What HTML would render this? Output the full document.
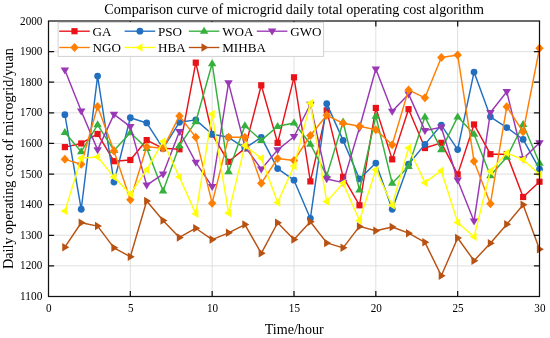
<!DOCTYPE html>
<html><head><meta charset="utf-8"><title>Comparison curve</title>
<style>html,body{margin:0;padding:0;background:#fff}svg{display:block}</style>
</head><body>
<svg width="550" height="338" viewBox="0 0 550 338" font-family="'Liberation Serif', serif" fill="#000">
<rect width="550" height="338" fill="#fff"/>
<path d="M130.33 21.0 V296.5 M212.17 21.0 V296.5 M294.00 21.0 V296.5 M375.83 21.0 V296.5 M457.67 21.0 V296.5 M48.5 265.89 H539.5 M48.5 235.28 H539.5 M48.5 204.67 H539.5 M48.5 174.06 H539.5 M48.5 143.44 H539.5 M48.5 112.83 H539.5 M48.5 82.22 H539.5 M48.5 51.61 H539.5" stroke="#dfdfdf" stroke-width="1" fill="none"/>
<g><polyline points="64.87,147.12 81.23,143.44 97.60,133.96 113.97,161.20 130.33,159.97 146.70,140.08 163.07,148.34 179.43,149.26 195.80,62.63 212.17,134.26 228.53,161.81 244.90,148.34 261.27,85.28 277.63,142.83 294.00,77.32 310.37,181.40 326.73,110.38 343.10,176.81 359.47,205.28 375.83,107.94 392.20,159.36 408.57,109.16 424.93,148.04 441.30,142.83 457.67,174.36 474.03,124.47 490.40,154.16 506.77,154.16 523.13,197.01 539.50,181.71" fill="none" stroke="#ea1219" stroke-width="1.45" stroke-linejoin="round"/>
<rect x="61.77" y="144.02" width="6.2" height="6.2" fill="#ea1219"/>
<rect x="78.13" y="140.34" width="6.2" height="6.2" fill="#ea1219"/>
<rect x="94.50" y="130.86" width="6.2" height="6.2" fill="#ea1219"/>
<rect x="110.87" y="158.10" width="6.2" height="6.2" fill="#ea1219"/>
<rect x="127.23" y="156.87" width="6.2" height="6.2" fill="#ea1219"/>
<rect x="143.60" y="136.98" width="6.2" height="6.2" fill="#ea1219"/>
<rect x="159.97" y="145.24" width="6.2" height="6.2" fill="#ea1219"/>
<rect x="176.33" y="146.16" width="6.2" height="6.2" fill="#ea1219"/>
<rect x="192.70" y="59.53" width="6.2" height="6.2" fill="#ea1219"/>
<rect x="209.07" y="131.16" width="6.2" height="6.2" fill="#ea1219"/>
<rect x="225.43" y="158.71" width="6.2" height="6.2" fill="#ea1219"/>
<rect x="241.80" y="145.24" width="6.2" height="6.2" fill="#ea1219"/>
<rect x="258.17" y="82.18" width="6.2" height="6.2" fill="#ea1219"/>
<rect x="274.53" y="139.73" width="6.2" height="6.2" fill="#ea1219"/>
<rect x="290.90" y="74.22" width="6.2" height="6.2" fill="#ea1219"/>
<rect x="307.27" y="178.30" width="6.2" height="6.2" fill="#ea1219"/>
<rect x="323.63" y="107.28" width="6.2" height="6.2" fill="#ea1219"/>
<rect x="340.00" y="173.71" width="6.2" height="6.2" fill="#ea1219"/>
<rect x="356.37" y="202.18" width="6.2" height="6.2" fill="#ea1219"/>
<rect x="372.73" y="104.84" width="6.2" height="6.2" fill="#ea1219"/>
<rect x="389.10" y="156.26" width="6.2" height="6.2" fill="#ea1219"/>
<rect x="405.47" y="106.06" width="6.2" height="6.2" fill="#ea1219"/>
<rect x="421.83" y="144.94" width="6.2" height="6.2" fill="#ea1219"/>
<rect x="438.20" y="139.73" width="6.2" height="6.2" fill="#ea1219"/>
<rect x="454.57" y="171.26" width="6.2" height="6.2" fill="#ea1219"/>
<rect x="470.93" y="121.37" width="6.2" height="6.2" fill="#ea1219"/>
<rect x="487.30" y="151.06" width="6.2" height="6.2" fill="#ea1219"/>
<rect x="503.67" y="151.06" width="6.2" height="6.2" fill="#ea1219"/>
<rect x="520.03" y="193.91" width="6.2" height="6.2" fill="#ea1219"/>
<rect x="536.40" y="178.61" width="6.2" height="6.2" fill="#ea1219"/>
</g>
<g><polyline points="64.87,114.67 81.23,209.26 97.60,76.10 113.97,182.01 130.33,117.73 146.70,122.94 163.07,148.34 179.43,122.32 195.80,119.87 212.17,134.26 228.53,137.32 244.90,148.04 261.27,137.32 277.63,168.55 294.00,180.18 310.37,218.44 326.73,103.65 343.10,140.38 359.47,178.95 375.83,163.04 392.20,209.26 408.57,164.26 424.93,144.36 441.30,125.08 457.67,149.57 474.03,72.12 490.40,116.81 506.77,127.53 523.13,139.47 539.50,169.16" fill="none" stroke="#226fc0" stroke-width="1.45" stroke-linejoin="round"/>
<circle cx="64.87" cy="114.67" r="3.4" fill="#226fc0"/>
<circle cx="81.23" cy="209.26" r="3.4" fill="#226fc0"/>
<circle cx="97.60" cy="76.10" r="3.4" fill="#226fc0"/>
<circle cx="113.97" cy="182.01" r="3.4" fill="#226fc0"/>
<circle cx="130.33" cy="117.73" r="3.4" fill="#226fc0"/>
<circle cx="146.70" cy="122.94" r="3.4" fill="#226fc0"/>
<circle cx="163.07" cy="148.34" r="3.4" fill="#226fc0"/>
<circle cx="179.43" cy="122.32" r="3.4" fill="#226fc0"/>
<circle cx="195.80" cy="119.87" r="3.4" fill="#226fc0"/>
<circle cx="212.17" cy="134.26" r="3.4" fill="#226fc0"/>
<circle cx="228.53" cy="137.32" r="3.4" fill="#226fc0"/>
<circle cx="244.90" cy="148.04" r="3.4" fill="#226fc0"/>
<circle cx="261.27" cy="137.32" r="3.4" fill="#226fc0"/>
<circle cx="277.63" cy="168.55" r="3.4" fill="#226fc0"/>
<circle cx="294.00" cy="180.18" r="3.4" fill="#226fc0"/>
<circle cx="310.37" cy="218.44" r="3.4" fill="#226fc0"/>
<circle cx="326.73" cy="103.65" r="3.4" fill="#226fc0"/>
<circle cx="343.10" cy="140.38" r="3.4" fill="#226fc0"/>
<circle cx="359.47" cy="178.95" r="3.4" fill="#226fc0"/>
<circle cx="375.83" cy="163.04" r="3.4" fill="#226fc0"/>
<circle cx="392.20" cy="209.26" r="3.4" fill="#226fc0"/>
<circle cx="408.57" cy="164.26" r="3.4" fill="#226fc0"/>
<circle cx="424.93" cy="144.36" r="3.4" fill="#226fc0"/>
<circle cx="441.30" cy="125.08" r="3.4" fill="#226fc0"/>
<circle cx="457.67" cy="149.57" r="3.4" fill="#226fc0"/>
<circle cx="474.03" cy="72.12" r="3.4" fill="#226fc0"/>
<circle cx="490.40" cy="116.81" r="3.4" fill="#226fc0"/>
<circle cx="506.77" cy="127.53" r="3.4" fill="#226fc0"/>
<circle cx="523.13" cy="139.47" r="3.4" fill="#226fc0"/>
<circle cx="539.50" cy="169.16" r="3.4" fill="#226fc0"/>
</g>
<g><polyline points="64.87,132.42 81.23,151.71 97.60,124.77 113.97,150.48 130.33,132.73 146.70,148.34 163.07,190.89 179.43,145.59 195.80,121.71 212.17,63.55 228.53,171.61 244.90,125.69 261.27,140.38 277.63,126.30 294.00,122.94 310.37,144.06 326.73,175.59 343.10,122.02 359.47,189.97 375.83,116.20 392.20,183.24 408.57,166.40 424.93,116.81 441.30,149.57 457.67,116.81 474.03,134.26 490.40,175.59 506.77,157.22 523.13,124.47 539.50,163.04" fill="none" stroke="#35b03c" stroke-width="1.45" stroke-linejoin="round"/>
<polygon points="60.62,135.02 69.12,135.02 64.87,128.02" fill="#35b03c"/>
<polygon points="76.98,154.31 85.48,154.31 81.23,147.31" fill="#35b03c"/>
<polygon points="93.35,127.37 101.85,127.37 97.60,120.37" fill="#35b03c"/>
<polygon points="109.72,153.08 118.22,153.08 113.97,146.08" fill="#35b03c"/>
<polygon points="126.08,135.33 134.58,135.33 130.33,128.33" fill="#35b03c"/>
<polygon points="142.45,150.94 150.95,150.94 146.70,143.94" fill="#35b03c"/>
<polygon points="158.82,193.49 167.32,193.49 163.07,186.49" fill="#35b03c"/>
<polygon points="175.18,148.19 183.68,148.19 179.43,141.19" fill="#35b03c"/>
<polygon points="191.55,124.31 200.05,124.31 195.80,117.31" fill="#35b03c"/>
<polygon points="207.92,66.15 216.42,66.15 212.17,59.15" fill="#35b03c"/>
<polygon points="224.28,174.21 232.78,174.21 228.53,167.21" fill="#35b03c"/>
<polygon points="240.65,128.29 249.15,128.29 244.90,121.29" fill="#35b03c"/>
<polygon points="257.02,142.98 265.52,142.98 261.27,135.98" fill="#35b03c"/>
<polygon points="273.38,128.90 281.88,128.90 277.63,121.90" fill="#35b03c"/>
<polygon points="289.75,125.53 298.25,125.53 294.00,118.53" fill="#35b03c"/>
<polygon points="306.12,146.66 314.62,146.66 310.37,139.66" fill="#35b03c"/>
<polygon points="322.48,178.19 330.98,178.19 326.73,171.19" fill="#35b03c"/>
<polygon points="338.85,124.62 347.35,124.62 343.10,117.62" fill="#35b03c"/>
<polygon points="355.22,192.57 363.72,192.57 359.47,185.57" fill="#35b03c"/>
<polygon points="371.58,118.80 380.08,118.80 375.83,111.80" fill="#35b03c"/>
<polygon points="387.95,185.84 396.45,185.84 392.20,178.84" fill="#35b03c"/>
<polygon points="404.32,169.00 412.82,169.00 408.57,162.00" fill="#35b03c"/>
<polygon points="420.68,119.41 429.18,119.41 424.93,112.41" fill="#35b03c"/>
<polygon points="437.05,152.17 445.55,152.17 441.30,145.17" fill="#35b03c"/>
<polygon points="453.42,119.41 461.92,119.41 457.67,112.41" fill="#35b03c"/>
<polygon points="469.78,136.86 478.28,136.86 474.03,129.86" fill="#35b03c"/>
<polygon points="486.15,178.19 494.65,178.19 490.40,171.19" fill="#35b03c"/>
<polygon points="502.52,159.82 511.02,159.82 506.77,152.82" fill="#35b03c"/>
<polygon points="518.88,127.07 527.38,127.07 523.13,120.07" fill="#35b03c"/>
<polygon points="535.25,165.64 543.75,165.64 539.50,158.64" fill="#35b03c"/>
</g>
<g><polyline points="64.87,69.98 81.23,111.00 97.60,149.87 113.97,114.36 130.33,126.61 146.70,185.08 163.07,174.06 179.43,131.51 195.80,162.42 212.17,186.61 228.53,82.83 244.90,146.51 261.27,169.16 277.63,149.87 294.00,136.71 310.37,104.26 326.73,178.95 343.10,182.63 359.47,127.83 375.83,69.06 392.20,111.30 408.57,94.16 424.93,130.59 441.30,127.22 457.67,180.18 474.03,221.20 490.40,112.53 506.77,91.71 523.13,158.75 539.50,142.83" fill="none" stroke="#9938b5" stroke-width="1.45" stroke-linejoin="round"/>
<polygon points="60.62,67.38 69.12,67.38 64.87,74.38" fill="#9938b5"/>
<polygon points="76.98,108.40 85.48,108.40 81.23,115.40" fill="#9938b5"/>
<polygon points="93.35,147.27 101.85,147.27 97.60,154.27" fill="#9938b5"/>
<polygon points="109.72,111.76 118.22,111.76 113.97,118.76" fill="#9938b5"/>
<polygon points="126.08,124.01 134.58,124.01 130.33,131.01" fill="#9938b5"/>
<polygon points="142.45,182.48 150.95,182.48 146.70,189.48" fill="#9938b5"/>
<polygon points="158.82,171.46 167.32,171.46 163.07,178.46" fill="#9938b5"/>
<polygon points="175.18,128.91 183.68,128.91 179.43,135.91" fill="#9938b5"/>
<polygon points="191.55,159.82 200.05,159.82 195.80,166.82" fill="#9938b5"/>
<polygon points="207.92,184.01 216.42,184.01 212.17,191.01" fill="#9938b5"/>
<polygon points="224.28,80.23 232.78,80.23 228.53,87.23" fill="#9938b5"/>
<polygon points="240.65,143.91 249.15,143.91 244.90,150.91" fill="#9938b5"/>
<polygon points="257.02,166.56 265.52,166.56 261.27,173.56" fill="#9938b5"/>
<polygon points="273.38,147.27 281.88,147.27 277.63,154.27" fill="#9938b5"/>
<polygon points="289.75,134.11 298.25,134.11 294.00,141.11" fill="#9938b5"/>
<polygon points="306.12,101.66 314.62,101.66 310.37,108.66" fill="#9938b5"/>
<polygon points="322.48,176.35 330.98,176.35 326.73,183.35" fill="#9938b5"/>
<polygon points="338.85,180.03 347.35,180.03 343.10,187.03" fill="#9938b5"/>
<polygon points="355.22,125.23 363.72,125.23 359.47,132.23" fill="#9938b5"/>
<polygon points="371.58,66.46 380.08,66.46 375.83,73.46" fill="#9938b5"/>
<polygon points="387.95,108.70 396.45,108.70 392.20,115.70" fill="#9938b5"/>
<polygon points="404.32,91.56 412.82,91.56 408.57,98.56" fill="#9938b5"/>
<polygon points="420.68,127.99 429.18,127.99 424.93,134.99" fill="#9938b5"/>
<polygon points="437.05,124.62 445.55,124.62 441.30,131.62" fill="#9938b5"/>
<polygon points="453.42,177.58 461.92,177.58 457.67,184.58" fill="#9938b5"/>
<polygon points="469.78,218.60 478.28,218.60 474.03,225.60" fill="#9938b5"/>
<polygon points="486.15,109.93 494.65,109.93 490.40,116.93" fill="#9938b5"/>
<polygon points="502.52,89.11 511.02,89.11 506.77,96.11" fill="#9938b5"/>
<polygon points="518.88,156.15 527.38,156.15 523.13,163.15" fill="#9938b5"/>
<polygon points="535.25,140.23 543.75,140.23 539.50,147.23" fill="#9938b5"/>
</g>
<g><polyline points="64.87,159.36 81.23,164.26 97.60,106.41 113.97,151.10 130.33,199.77 146.70,146.81 163.07,148.34 179.43,115.89 195.80,137.32 212.17,203.14 228.53,137.32 244.90,137.32 261.27,183.24 277.63,158.44 294.00,160.59 310.37,135.49 326.73,115.28 343.10,123.24 359.47,126.30 375.83,129.67 392.20,144.67 408.57,89.88 424.93,97.83 441.30,57.43 457.67,54.98 474.03,161.20 490.40,203.75 506.77,106.71 523.13,131.81 539.50,48.24" fill="none" stroke="#ff7f03" stroke-width="1.45" stroke-linejoin="round"/>
<polygon points="60.67,159.36 64.87,154.86 69.07,159.36 64.87,163.86" fill="#ff7f03"/>
<polygon points="77.03,164.26 81.23,159.76 85.43,164.26 81.23,168.76" fill="#ff7f03"/>
<polygon points="93.40,106.41 97.60,101.91 101.80,106.41 97.60,110.91" fill="#ff7f03"/>
<polygon points="109.77,151.10 113.97,146.60 118.17,151.10 113.97,155.60" fill="#ff7f03"/>
<polygon points="126.13,199.77 130.33,195.27 134.53,199.77 130.33,204.27" fill="#ff7f03"/>
<polygon points="142.50,146.81 146.70,142.31 150.90,146.81 146.70,151.31" fill="#ff7f03"/>
<polygon points="158.87,148.34 163.07,143.84 167.27,148.34 163.07,152.84" fill="#ff7f03"/>
<polygon points="175.23,115.89 179.43,111.39 183.63,115.89 179.43,120.39" fill="#ff7f03"/>
<polygon points="191.60,137.32 195.80,132.82 200.00,137.32 195.80,141.82" fill="#ff7f03"/>
<polygon points="207.97,203.14 212.17,198.64 216.37,203.14 212.17,207.64" fill="#ff7f03"/>
<polygon points="224.33,137.32 228.53,132.82 232.73,137.32 228.53,141.82" fill="#ff7f03"/>
<polygon points="240.70,137.32 244.90,132.82 249.10,137.32 244.90,141.82" fill="#ff7f03"/>
<polygon points="257.07,183.24 261.27,178.74 265.47,183.24 261.27,187.74" fill="#ff7f03"/>
<polygon points="273.43,158.44 277.63,153.94 281.83,158.44 277.63,162.94" fill="#ff7f03"/>
<polygon points="289.80,160.59 294.00,156.09 298.20,160.59 294.00,165.09" fill="#ff7f03"/>
<polygon points="306.17,135.49 310.37,130.99 314.57,135.49 310.37,139.99" fill="#ff7f03"/>
<polygon points="322.53,115.28 326.73,110.78 330.93,115.28 326.73,119.78" fill="#ff7f03"/>
<polygon points="338.90,123.24 343.10,118.74 347.30,123.24 343.10,127.74" fill="#ff7f03"/>
<polygon points="355.27,126.30 359.47,121.80 363.67,126.30 359.47,130.80" fill="#ff7f03"/>
<polygon points="371.63,129.67 375.83,125.17 380.03,129.67 375.83,134.17" fill="#ff7f03"/>
<polygon points="388.00,144.67 392.20,140.17 396.40,144.67 392.20,149.17" fill="#ff7f03"/>
<polygon points="404.37,89.88 408.57,85.38 412.77,89.88 408.57,94.38" fill="#ff7f03"/>
<polygon points="420.73,97.83 424.93,93.33 429.13,97.83 424.93,102.33" fill="#ff7f03"/>
<polygon points="437.10,57.43 441.30,52.93 445.50,57.43 441.30,61.93" fill="#ff7f03"/>
<polygon points="453.47,54.98 457.67,50.48 461.87,54.98 457.67,59.48" fill="#ff7f03"/>
<polygon points="469.83,161.20 474.03,156.70 478.23,161.20 474.03,165.70" fill="#ff7f03"/>
<polygon points="486.20,203.75 490.40,199.25 494.60,203.75 490.40,208.25" fill="#ff7f03"/>
<polygon points="502.57,106.71 506.77,102.21 510.97,106.71 506.77,111.21" fill="#ff7f03"/>
<polygon points="518.93,131.81 523.13,127.31 527.33,131.81 523.13,136.31" fill="#ff7f03"/>
<polygon points="535.30,48.24 539.50,43.74 543.70,48.24 539.50,52.74" fill="#ff7f03"/>
</g>
<g><polyline points="64.87,211.09 81.23,158.14 97.60,156.91 113.97,177.12 130.33,193.95 146.70,169.77 163.07,141.61 179.43,177.12 195.80,213.85 212.17,114.06 228.53,212.93 244.90,145.59 261.27,158.14 277.63,202.52 294.00,166.10 310.37,103.34 326.73,201.61 343.10,183.24 359.47,220.58 375.83,169.77 392.20,205.28 408.57,148.04 424.93,182.63 441.30,170.69 457.67,222.42 474.03,236.81 490.40,171.30 506.77,152.93 523.13,159.67 539.50,174.36" fill="none" stroke="#ffff0a" stroke-width="1.45" stroke-linejoin="round"/>
<polygon points="67.47,206.84 67.47,215.34 60.47,211.09" fill="#ffff0a"/>
<polygon points="83.83,153.89 83.83,162.39 76.83,158.14" fill="#ffff0a"/>
<polygon points="100.20,152.66 100.20,161.16 93.20,156.91" fill="#ffff0a"/>
<polygon points="116.57,172.87 116.57,181.37 109.57,177.12" fill="#ffff0a"/>
<polygon points="132.93,189.70 132.93,198.20 125.93,193.95" fill="#ffff0a"/>
<polygon points="149.30,165.52 149.30,174.02 142.30,169.77" fill="#ffff0a"/>
<polygon points="165.67,137.36 165.67,145.86 158.67,141.61" fill="#ffff0a"/>
<polygon points="182.03,172.87 182.03,181.37 175.03,177.12" fill="#ffff0a"/>
<polygon points="198.40,209.60 198.40,218.10 191.40,213.85" fill="#ffff0a"/>
<polygon points="214.77,109.81 214.77,118.31 207.77,114.06" fill="#ffff0a"/>
<polygon points="231.13,208.68 231.13,217.18 224.13,212.93" fill="#ffff0a"/>
<polygon points="247.50,141.34 247.50,149.84 240.50,145.59" fill="#ffff0a"/>
<polygon points="263.87,153.89 263.87,162.39 256.87,158.14" fill="#ffff0a"/>
<polygon points="280.23,198.27 280.23,206.77 273.23,202.52" fill="#ffff0a"/>
<polygon points="296.60,161.85 296.60,170.35 289.60,166.10" fill="#ffff0a"/>
<polygon points="312.97,99.09 312.97,107.59 305.97,103.34" fill="#ffff0a"/>
<polygon points="329.33,197.36 329.33,205.86 322.33,201.61" fill="#ffff0a"/>
<polygon points="345.70,178.99 345.70,187.49 338.70,183.24" fill="#ffff0a"/>
<polygon points="362.07,216.33 362.07,224.83 355.07,220.58" fill="#ffff0a"/>
<polygon points="378.43,165.52 378.43,174.02 371.43,169.77" fill="#ffff0a"/>
<polygon points="394.80,201.03 394.80,209.53 387.80,205.28" fill="#ffff0a"/>
<polygon points="411.17,143.79 411.17,152.29 404.17,148.04" fill="#ffff0a"/>
<polygon points="427.53,178.38 427.53,186.88 420.53,182.63" fill="#ffff0a"/>
<polygon points="443.90,166.44 443.90,174.94 436.90,170.69" fill="#ffff0a"/>
<polygon points="460.27,218.17 460.27,226.67 453.27,222.42" fill="#ffff0a"/>
<polygon points="476.63,232.56 476.63,241.06 469.63,236.81" fill="#ffff0a"/>
<polygon points="493.00,167.05 493.00,175.55 486.00,171.30" fill="#ffff0a"/>
<polygon points="509.37,148.68 509.37,157.18 502.37,152.93" fill="#ffff0a"/>
<polygon points="525.73,155.42 525.73,163.92 518.73,159.67" fill="#ffff0a"/>
<polygon points="542.10,170.11 542.10,178.61 535.10,174.36" fill="#ffff0a"/>
</g>
<g><polyline points="64.87,247.22 81.23,222.73 97.60,226.09 113.97,247.83 130.33,256.71 146.70,200.99 163.07,220.58 179.43,237.42 195.80,228.24 212.17,239.56 228.53,232.83 244.90,224.56 261.27,253.34 277.63,222.73 294.00,239.56 310.37,221.81 326.73,242.93 343.10,247.83 359.47,226.40 375.83,230.69 392.20,227.01 408.57,233.13 424.93,242.32 441.30,275.68 457.67,238.03 474.03,260.69 490.40,243.24 506.77,224.26 523.13,204.67 539.50,249.36" fill="none" stroke="#b85212" stroke-width="1.45" stroke-linejoin="round"/>
<polygon points="62.27,242.97 62.27,251.47 69.27,247.22" fill="#b85212"/>
<polygon points="78.63,218.48 78.63,226.98 85.63,222.73" fill="#b85212"/>
<polygon points="95.00,221.84 95.00,230.34 102.00,226.09" fill="#b85212"/>
<polygon points="111.37,243.58 111.37,252.08 118.37,247.83" fill="#b85212"/>
<polygon points="127.73,252.46 127.73,260.96 134.73,256.71" fill="#b85212"/>
<polygon points="144.10,196.74 144.10,205.24 151.10,200.99" fill="#b85212"/>
<polygon points="160.47,216.33 160.47,224.83 167.47,220.58" fill="#b85212"/>
<polygon points="176.83,233.17 176.83,241.67 183.83,237.42" fill="#b85212"/>
<polygon points="193.20,223.99 193.20,232.49 200.20,228.24" fill="#b85212"/>
<polygon points="209.57,235.31 209.57,243.81 216.57,239.56" fill="#b85212"/>
<polygon points="225.93,228.58 225.93,237.08 232.93,232.83" fill="#b85212"/>
<polygon points="242.30,220.31 242.30,228.81 249.30,224.56" fill="#b85212"/>
<polygon points="258.67,249.09 258.67,257.59 265.67,253.34" fill="#b85212"/>
<polygon points="275.03,218.48 275.03,226.98 282.03,222.73" fill="#b85212"/>
<polygon points="291.40,235.31 291.40,243.81 298.40,239.56" fill="#b85212"/>
<polygon points="307.77,217.56 307.77,226.06 314.77,221.81" fill="#b85212"/>
<polygon points="324.13,238.68 324.13,247.18 331.13,242.93" fill="#b85212"/>
<polygon points="340.50,243.58 340.50,252.08 347.50,247.83" fill="#b85212"/>
<polygon points="356.87,222.15 356.87,230.65 363.87,226.40" fill="#b85212"/>
<polygon points="373.23,226.44 373.23,234.94 380.23,230.69" fill="#b85212"/>
<polygon points="389.60,222.76 389.60,231.26 396.60,227.01" fill="#b85212"/>
<polygon points="405.97,228.88 405.97,237.38 412.97,233.13" fill="#b85212"/>
<polygon points="422.33,238.07 422.33,246.57 429.33,242.32" fill="#b85212"/>
<polygon points="438.70,271.43 438.70,279.93 445.70,275.68" fill="#b85212"/>
<polygon points="455.07,233.78 455.07,242.28 462.07,238.03" fill="#b85212"/>
<polygon points="471.43,256.44 471.43,264.94 478.43,260.69" fill="#b85212"/>
<polygon points="487.80,238.99 487.80,247.49 494.80,243.24" fill="#b85212"/>
<polygon points="504.17,220.01 504.17,228.51 511.17,224.26" fill="#b85212"/>
<polygon points="520.53,200.42 520.53,208.92 527.53,204.67" fill="#b85212"/>
<polygon points="536.90,245.11 536.90,253.61 543.90,249.36" fill="#b85212"/>
</g>
<path d="M130.33 296.5 v-5.6 M130.33 21.0 v5.6 M212.17 296.5 v-5.6 M212.17 21.0 v5.6 M294.00 296.5 v-5.6 M294.00 21.0 v5.6 M375.83 296.5 v-5.6 M375.83 21.0 v5.6 M457.67 296.5 v-5.6 M457.67 21.0 v5.6 M48.5 265.89 h5.6 M539.5 265.89 h-5.6 M48.5 235.28 h5.6 M539.5 235.28 h-5.6 M48.5 204.67 h5.6 M539.5 204.67 h-5.6 M48.5 174.06 h5.6 M539.5 174.06 h-5.6 M48.5 143.44 h5.6 M539.5 143.44 h-5.6 M48.5 112.83 h5.6 M539.5 112.83 h-5.6 M48.5 82.22 h5.6 M539.5 82.22 h-5.6 M48.5 51.61 h5.6 M539.5 51.61 h-5.6" stroke="#111" stroke-width="1.25" fill="none"/>
<rect x="48.5" y="21.0" width="491.00" height="275.50" fill="none" stroke="#111" stroke-width="1.25"/>
<text x="48.90" y="311.5" font-size="11.8" text-anchor="middle" textLength="5.58" lengthAdjust="spacingAndGlyphs">0</text>
<text x="130.73" y="311.5" font-size="11.8" text-anchor="middle" textLength="5.58" lengthAdjust="spacingAndGlyphs">5</text>
<text x="212.57" y="311.5" font-size="11.8" text-anchor="middle" textLength="11.15" lengthAdjust="spacingAndGlyphs">10</text>
<text x="294.40" y="311.5" font-size="11.8" text-anchor="middle" textLength="11.15" lengthAdjust="spacingAndGlyphs">15</text>
<text x="376.23" y="311.5" font-size="11.8" text-anchor="middle" textLength="11.15" lengthAdjust="spacingAndGlyphs">20</text>
<text x="458.07" y="311.5" font-size="11.8" text-anchor="middle" textLength="11.15" lengthAdjust="spacingAndGlyphs">25</text>
<text x="539.90" y="311.5" font-size="11.8" text-anchor="middle" textLength="11.15" lengthAdjust="spacingAndGlyphs">30</text>
<text x="42.4" y="300.05" font-size="11.8" text-anchor="end" textLength="22.30" lengthAdjust="spacingAndGlyphs">1100</text>
<text x="42.4" y="269.44" font-size="11.8" text-anchor="end" textLength="22.30" lengthAdjust="spacingAndGlyphs">1200</text>
<text x="42.4" y="238.83" font-size="11.8" text-anchor="end" textLength="22.30" lengthAdjust="spacingAndGlyphs">1300</text>
<text x="42.4" y="208.22" font-size="11.8" text-anchor="end" textLength="22.30" lengthAdjust="spacingAndGlyphs">1400</text>
<text x="42.4" y="177.61" font-size="11.8" text-anchor="end" textLength="22.30" lengthAdjust="spacingAndGlyphs">1500</text>
<text x="42.4" y="146.99" font-size="11.8" text-anchor="end" textLength="22.30" lengthAdjust="spacingAndGlyphs">1600</text>
<text x="42.4" y="116.38" font-size="11.8" text-anchor="end" textLength="22.30" lengthAdjust="spacingAndGlyphs">1700</text>
<text x="42.4" y="85.77" font-size="11.8" text-anchor="end" textLength="22.30" lengthAdjust="spacingAndGlyphs">1800</text>
<text x="42.4" y="55.16" font-size="11.8" text-anchor="end" textLength="22.30" lengthAdjust="spacingAndGlyphs">1900</text>
<text x="42.4" y="24.55" font-size="11.8" text-anchor="end" textLength="22.30" lengthAdjust="spacingAndGlyphs">2000</text>
<text x="294.1" y="13.8" font-size="14.1" text-anchor="middle">Comparison curve of microgrid daily total operating cost algorithm</text>
<text x="294.2" y="333.6" font-size="14.1" text-anchor="middle">Time/hour</text>
<text transform="translate(13.1 158.6) rotate(-90)" font-size="14.15" text-anchor="middle">Daily operating cost of microgrid/yuan</text>
<rect x="58.1" y="22.4" width="265.5" height="34.0" fill="#fff" fill-opacity="1" stroke="#d2d2d2" stroke-width="1"/>
<path d="M59.2 31.2 h30.6" stroke="#ea1219" stroke-width="1.35"/>
<rect x="71.40" y="28.10" width="6.2" height="6.2" fill="#ea1219"/>
<text x="92.60" y="35.60" font-size="13.1">GA</text>
<path d="M124.6 31.2 h30.6" stroke="#226fc0" stroke-width="1.35"/>
<circle cx="139.90" cy="31.20" r="3.4" fill="#226fc0"/>
<text x="158.00" y="35.60" font-size="13.1">PSO</text>
<path d="M188.8 31.2 h30.6" stroke="#35b03c" stroke-width="1.35"/>
<polygon points="199.85,33.80 208.35,33.80 204.10,26.80" fill="#35b03c"/>
<text x="222.20" y="35.60" font-size="13.1">WOA</text>
<path d="M256.8 31.2 h30.6" stroke="#9938b5" stroke-width="1.35"/>
<polygon points="267.85,28.60 276.35,28.60 272.10,35.60" fill="#9938b5"/>
<text x="290.20" y="35.60" font-size="13.1">GWO</text>
<path d="M59.2 47.5 h30.6" stroke="#ff7f03" stroke-width="1.35"/>
<polygon points="70.30,47.50 74.50,43.00 78.70,47.50 74.50,52.00" fill="#ff7f03"/>
<text x="92.60" y="51.90" font-size="13.1">NGO</text>
<path d="M124.6 47.5 h30.6" stroke="#ffff0a" stroke-width="1.35"/>
<polygon points="142.50,43.25 142.50,51.75 135.50,47.50" fill="#ffff0a"/>
<text x="158.00" y="51.90" font-size="13.1">HBA</text>
<path d="M188.8 47.5 h30.6" stroke="#b85212" stroke-width="1.35"/>
<polygon points="201.50,43.25 201.50,51.75 208.50,47.50" fill="#b85212"/>
<text x="222.20" y="51.90" font-size="13.1">MIHBA</text>
</svg>
</body></html>
